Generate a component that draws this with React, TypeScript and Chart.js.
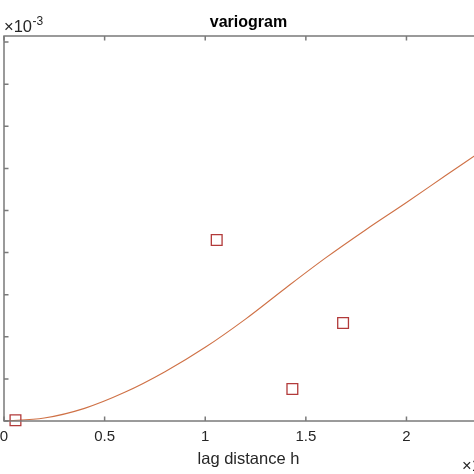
import React, { useEffect, useRef } from 'react';
import { Chart, registerables } from 'chart.js';

Chart.register(...registerables);

// Experimental variogram points (x in units of 1e4, y in units of 1e-3)
const lagPoints: number[] = [0.057, 1.057, 1.433, 1.685];
const gammaPoints: number[] = [0.02, 4.30, 0.76, 2.33];

// Fitted model curve
const modelLag: number[] = [0, 0.2, 0.4, 0.6, 0.8, 1.0, 1.2, 1.4, 1.6, 1.8, 2.0, 2.2, 2.4, 2.43];
const modelGamma: number[] = [0, 0.07, 0.3, 0.68, 1.17, 1.75, 2.42, 3.16, 3.88, 4.55, 5.19, 5.85, 6.5, 6.6];

const xTickValues: number[] = [0, 0.5, 1, 1.5, 2];
const yTickValues: number[] = [0, 1, 2, 3, 4, 5, 6, 7, 8, 9];

const FONT = "'Liberation Sans', Arial, Helvetica, sans-serif";
const AXIS_COLOR = '#7a7a7a';
const TEXT_COLOR = '#262626';

const matlabAxes = {
  id: 'matlabAxes',
  afterDraw(chart: any) {
    const { ctx, chartArea } = chart;
    const { left, right, top, bottom } = chartArea;
    const xs = chart.scales.x;
    const ys = chart.scales.y;
    ctx.save();
    ctx.strokeStyle = AXIS_COLOR;
    ctx.lineWidth = 1.5;
    ctx.strokeRect(left, top, right - left, bottom - top);
    const tl = 4.5;
    ctx.beginPath();
    xs.ticks.forEach((t: any) => {
      const px = xs.getPixelForValue(t.value);
      ctx.moveTo(px, bottom);
      ctx.lineTo(px, bottom - tl);
      ctx.moveTo(px, top);
      ctx.lineTo(px, top + tl);
    });
    ys.ticks.forEach((t: any) => {
      const py = ys.getPixelForValue(t.value);
      ctx.moveTo(left, py);
      ctx.lineTo(left + tl, py);
      ctx.moveTo(right, py);
      ctx.lineTo(right - tl, py);
    });
    ctx.stroke();

    // exponent labels
    ctx.fillStyle = TEXT_COLOR;
    ctx.textAlign = 'left';
    ctx.textBaseline = 'alphabetic';
    ctx.font = `16.5px ${FONT}`;
    const base1 = '\u00d710';
    ctx.fillText(base1, left, 32);
    const w1 = ctx.measureText(base1).width;
    ctx.font = `12px ${FONT}`;
    ctx.fillText('-3', left + w1 + 0.5, 25);

    ctx.font = `16.5px ${FONT}`;
    const bx = right - 31;
    ctx.fillText(base1, bx, 471);
    const w2 = ctx.measureText(base1).width;
    ctx.font = `12px ${FONT}`;
    ctx.fillText('4', bx + w2 + 0.5, 464);
    ctx.restore();
  },
};

export default function App() {
  const canvasRef = useRef<HTMLCanvasElement | null>(null);

  useEffect(() => {
    const canvas = canvasRef.current;
    if (!canvas) return;
    const chart = new Chart(canvas, {
      type: 'scatter',
      data: {
        datasets: [
          {
            type: 'line',
            label: 'model',
            data: modelLag.map((x, i) => ({ x, y: modelGamma[i] })),
            borderColor: '#cf7146',
            borderWidth: 1.1,
            pointRadius: 0,
            fill: false,
            cubicInterpolationMode: 'monotone',
            order: 2,
          },
          {
            type: 'scatter',
            label: 'experimental',
            data: lagPoints.map((x, i) => ({ x, y: gammaPoints[i] })),
            pointStyle: 'rect',
            pointRadius: 7.6,
            borderColor: '#b23a3a',
            borderWidth: 1.3,
            backgroundColor: 'rgba(0,0,0,0)',
            clip: false,
            order: 1,
          } as any,
        ],
      },
      options: {
        animation: false,
        responsive: false,
        devicePixelRatio: 1,
        layout: { padding: { left: 0, right: 47, top: 0, bottom: 0 } },
        plugins: {
          legend: { display: false },
          tooltip: { enabled: false },
          title: {
            display: true,
            text: 'variogram',
            fullSize: false,
            color: '#000',
            font: { family: FONT, size: 16, weight: 'bold' },
            padding: { top: 13, bottom: 3.8 },
          },
        },
        scales: {
          x: {
            type: 'linear',
            min: 0,
            max: 2.43,
            grid: { display: false, drawTicks: false },
            border: { display: false },
            afterBuildTicks: (scale: any) => {
              scale.ticks = xTickValues.map((v) => ({ value: v }));
            },
            afterFit: (scale: any) => {
              scale.height = 53;
            },
            ticks: {
              color: TEXT_COLOR,
              padding: 7,
              maxRotation: 0,
              font: { family: FONT, size: 15 },
              callback: (v: any) => String(v),
            },
            title: {
              display: true,
              text: 'lag distance h',
              color: TEXT_COLOR,
              font: { family: FONT, size: 16.5 },
              padding: { top: 0, bottom: 4.2 },
            },
          },
          y: {
            type: 'linear',
            min: 0,
            max: 9.145,
            grid: { display: false, drawTicks: false },
            border: { display: false },
            afterBuildTicks: (scale: any) => {
              scale.ticks = yTickValues.map((v) => ({ value: v }));
            },
            afterFit: (scale: any) => {
              scale.width = 64;
            },
            ticks: {
              color: TEXT_COLOR,
              padding: 8,
              font: { family: FONT, size: 15 },
              callback: (v: any) => String(v),
            },
          },
        },
      },
      plugins: [matlabAxes],
    } as any);
    return () => chart.destroy();
  }, []);

  return (
    <div
      style={{
        position: 'fixed',
        left: 0,
        top: 0,
        width: 474,
        height: 474,
        overflow: 'hidden',
        background: '#fff',
      }}
    >
      <div style={{ position: 'absolute', left: -60, top: 0, width: 600, height: 474 }}>
        <canvas ref={canvasRef} width={600} height={474} style={{ width: 600, height: 474, display: 'block' }} />
      </div>
    </div>
  );
}
